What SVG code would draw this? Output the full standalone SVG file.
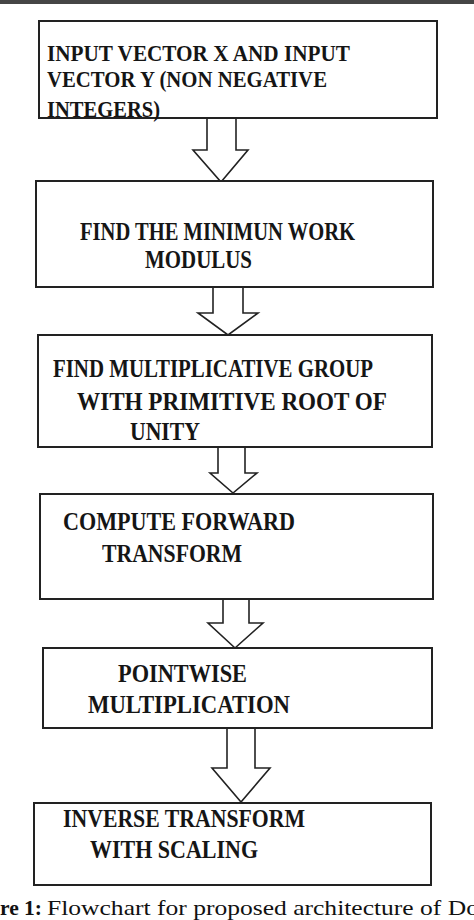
<svg xmlns="http://www.w3.org/2000/svg" width="474" height="920" viewBox="0 0 474 920">
<style>
.box{fill:#fff;stroke:#222;stroke-width:2}
.arr{fill:#fff;stroke:#222;stroke-width:1.6;stroke-linejoin:miter}
.t{font-family:'Liberation Serif','Times New Roman',serif;font-weight:700;font-size:25px;fill:#151515}
.t1{font-size:23px}
.cap{font-family:'Liberation Serif','Times New Roman',serif;font-size:22px;fill:#111}
</style>
<rect x="0" y="0" width="474" height="920" fill="#fff"/>
<rect x="0" y="0" width="474" height="4" fill="#454545"/>
<g id="connectors">
<polygon class="arr" points="207,118 236,118 236,150 248,150 221,182 193,150 207,150"/>
<polygon class="arr" points="213,287 243,287 243,313 258,313 228,335 198,313 213,313"/>
<polygon class="arr" points="218,447 245,447 245,473 257,473 233,493 210,473 218,473"/>
<polygon class="arr" points="223,599 249,599 249,623 263,623 235,648 208,623 223,623"/>
<polygon class="arr" points="227,728 255,728 255,768 270,768 241,802 212,768 227,768"/>
</g>
<g id="n1">
<rect class="box" x="39" y="21" width="398" height="97"/>
<text class="t t1" x="47" y="61" textLength="303" lengthAdjust="spacingAndGlyphs">INPUT VECTOR X AND INPUT</text>
<text class="t t1" x="47" y="87" textLength="280" lengthAdjust="spacingAndGlyphs">VECTOR Y (NON NEGATIVE</text>
<text class="t t1" x="47" y="117" textLength="113" lengthAdjust="spacingAndGlyphs">INTEGERS)</text>
</g>
<g id="n2">
<rect class="box" x="36" y="181" width="397" height="106"/>
<text class="t" x="80" y="240" textLength="275" lengthAdjust="spacingAndGlyphs">FIND THE MINIMUN WORK</text>
<text class="t" x="145" y="268" textLength="107" lengthAdjust="spacingAndGlyphs">MODULUS</text>
</g>
<g id="n3">
<rect class="box" x="38" y="335" width="394" height="112"/>
<text class="t" x="53" y="377" textLength="320" lengthAdjust="spacingAndGlyphs">FIND MULTIPLICATIVE GROUP</text>
<text class="t" x="77" y="410" textLength="310" lengthAdjust="spacingAndGlyphs">WITH PRIMITIVE ROOT OF</text>
<text class="t" x="130" y="440" textLength="70" lengthAdjust="spacingAndGlyphs">UNITY</text>
</g>
<g id="n4">
<rect class="box" x="40" y="494" width="393" height="105"/>
<text class="t" x="63" y="530" textLength="232" lengthAdjust="spacingAndGlyphs">COMPUTE FORWARD</text>
<text class="t" x="102" y="562" textLength="140" lengthAdjust="spacingAndGlyphs">TRANSFORM</text>
</g>
<g id="n5">
<rect class="box" x="43" y="648" width="389" height="80"/>
<text class="t" x="118" y="682" textLength="129" lengthAdjust="spacingAndGlyphs">POINTWISE</text>
<text class="t" x="88" y="713" textLength="202" lengthAdjust="spacingAndGlyphs">MULTIPLICATION</text>
</g>
<g id="n6">
<rect class="box" x="34" y="803" width="397" height="82"/>
<text class="t" x="63" y="827" textLength="242" lengthAdjust="spacingAndGlyphs">INVERSE TRANSFORM</text>
<text class="t" x="90" y="858" textLength="168" lengthAdjust="spacingAndGlyphs">WITH SCALING</text>
</g>
<text class="cap" x="0" y="915"><tspan font-weight="bold" textLength="42" lengthAdjust="spacingAndGlyphs">re 1:</tspan></text>
<text class="cap" x="47" y="915" textLength="432" lengthAdjust="spacingAndGlyphs">Flowchart for proposed architecture of Do</text>
</svg>
